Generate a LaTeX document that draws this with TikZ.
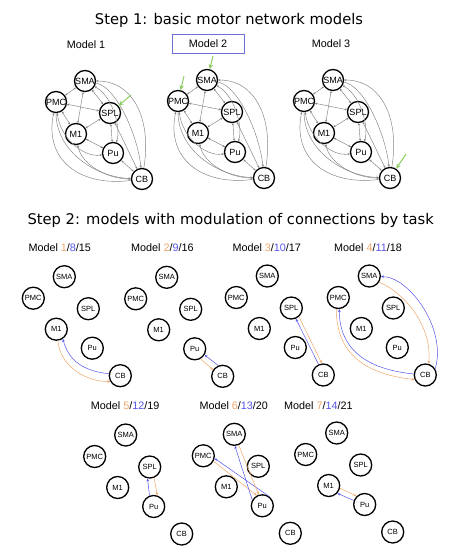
\documentclass[tikz,border=0pt]{standalone}
\usepackage{fontspec}
\setmainfont{Liberation Sans}
\newfontfamily\headfont{DejaVu Sans}
\usetikzlibrary{arrows.meta,positioning}
\definecolor{modorange}{RGB}{240,165,105}
\definecolor{modblue}{RGB}{85,85,235}
\definecolor{cuegreen}{RGB}{140,205,100}
\definecolor{boxblue}{RGB}{110,110,215}

\begin{document}
\begin{tikzpicture}[x=1pt,y=-1pt,
    region/.style={circle, draw, line width=1.3pt, minimum size=21pt, inner sep=0pt, font=\fontsize{9}{9}\selectfont},
    smallregion/.style={circle, draw, line width=1.3pt, minimum size=22pt, inner sep=0pt, font=\fontsize{7.5}{7.5}\selectfont},
    link/.style={draw=gray, line width=0.45pt, {Stealth[length=2.4pt,width=2.2pt]}-{Stealth[length=2.4pt,width=2.2pt]}},
    onelink/.style={draw=gray, line width=0.45pt, -{Stealth[length=2.4pt,width=2.2pt]}},
    cue/.style={draw=cuegreen, line width=1pt, -{Stealth[length=5pt,width=4.5pt]}},
    orangelink/.style={draw=modorange, line width=0.5pt, -{Stealth[length=3pt,width=2.6pt]}},
    bluelink/.style={draw=modblue, line width=0.5pt, -{Stealth[length=3pt,width=2.6pt]}},
    title/.style={font=\headfont\fontsize{14.7}{14.7}\selectfont},
    modelname/.style={font=\fontsize{10.8}{10.8}\selectfont}
]
\useasboundingbox (0,0) rectangle (474,557);

\node[title] (step1) at (229,20) {Step 1: basic motor network models};
\node[modelname] (name1) at (86,45) {Model 1};
\node[modelname, draw=boxblue, line width=0.8pt, minimum width=72pt, minimum height=18.6pt] (name2) at (208,44) {Model 2};
\node[modelname] (name3) at (331,44) {Model 3};

\foreach \m/\x/\y in {model1/85/81, model2/207/80, model3/333/80}{
    \node[region] (\m sma) at (\x,\y) {SMA};
    \node[region] (\m pmc) at ({\x-29},{\y+21}) {PMC};
    \node[region] (\m spl) at ({\x+25},{\y+32}) {SPL};
    \node[region] (\m m1) at ({\x-9},{\y+53}) {M1};
    \node[region] (\m pu) at ({\x+28},{\y+72}) {Pu};
    \node[region] (\m cb) at ({\x+57},{\y+98}) {CB};
}

\foreach \m in {model1,model2,model3}{
    \draw[link] (\m sma) -- (\m pmc);
    \draw[link] (\m sma) -- (\m spl);
    \draw[link] (\m sma) -- (\m m1);
    \draw[link] (\m pmc) -- (\m spl);
    \draw[link] (\m pmc) -- (\m m1);
    \draw[link] (\m spl) -- (\m m1);
    \draw[link] (\m spl) -- (\m pu);
    \draw[link] (\m m1) -- (\m pu);
    \draw[link] (\m pu) -- (\m cb);
    \draw[link] (\m spl) -- (\m cb);
    \draw[link] (\m sma) .. controls +(28,16) and +(8,-25) .. (\m pu);
    \draw[onelink] (\m sma) .. controls +(32,6) and +(-4,-42) .. (\m cb);
    \draw[onelink] (\m cb) .. controls +(10,-60) and +(48,0) .. (\m sma);
    \draw[link] (\m pmc) .. controls +(4,35) and +(-30,5) .. (\m pu);
    \draw[link] (\m m1) .. controls +(5,30) and +(-35,0) .. (\m cb);
    \draw[onelink] (\m pmc) .. controls +(0,48) and +(-48,-2) .. (\m cb);
    \draw[onelink] (\m cb) .. controls +(-62,8) and +(-12,58) .. (\m pmc);
}

\coordinate (cue1) at (131,95);
\coordinate (cue2) at (213,56);
\coordinate (cue3) at (184,76);
\coordinate (cue4) at (406,154);
\draw[cue] (cue1) -- (model1spl);
\draw[cue] (cue2) -- (model2sma);
\draw[cue] (cue3) -- (model2pmc);
\draw[cue] (cue4) -- (model3cb);

\node[title, anchor=west] (step2) at (24,220.7) {Step 2: models with modulation of connections by task};
\node[modelname, anchor=west] (task1name) at (25,247.5) {Model \textcolor{modorange}{1}/\textcolor{modblue}{8}/15};
\node[modelname, anchor=west] (task2name) at (127.7,247.5) {Model \textcolor{modorange}{2}/\textcolor{modblue}{9}/16};
\node[modelname, anchor=west] (task3name) at (229,247.5) {Model \textcolor{modorange}{3}/\textcolor{modblue}{10}/17};
\node[modelname, anchor=west] (task4name) at (330.7,247.5) {Model \textcolor{modorange}{4}/\textcolor{modblue}{11}/18};
\node[modelname, anchor=west] (task5name) at (87.3,406) {Model \textcolor{modorange}{5}/\textcolor{modblue}{12}/19};
\node[modelname, anchor=west] (task6name) at (196,406) {Model \textcolor{modorange}{6}/\textcolor{modblue}{13}/20};
\node[modelname, anchor=west] (task7name) at (280.7,406) {Model \textcolor{modorange}{7}/\textcolor{modblue}{14}/21};

\foreach \m/\x/\y in {task1/64.3/276.7, task2/166.7/277.3, task3/267.3/276, task4/369.3/276, task5/125.7/435, task6/234.3/434.3, task7/336.7/433}{
    \node[smallregion] (\m sma) at (\x,\y) {SMA};
    \node[smallregion] (\m pmc) at ({\x-31},{\y+21.5}) {PMC};
    \node[smallregion] (\m spl) at ({\x+24},{\y+32}) {SPL};
    \node[smallregion] (\m m1) at ({\x-8},{\y+52.5}) {M1};
    \node[smallregion] (\m pu) at ({\x+28},{\y+71.5}) {Pu};
    \node[smallregion] (\m cb) at ({\x+56},{\y+99}) {CB};
}

\draw[bluelink] (task1cb.170) .. controls +(-30,-3) and +(5,18) .. (task1m1.-56);
\draw[orangelink] (task1m1.-82) .. controls +(2,25) and +(-25,0) .. (task1cb.-150);

\draw[bluelink] (task2cb.112) -- (task2pu.-32);
\draw[orangelink] (task2pu.-60) -- (task2cb.146);

\draw[bluelink] (task3cb.114) -- (task3spl.-67);
\draw[orangelink] (task3spl.-49) -- (task3cb.97);

\draw[bluelink] (task4cb.175) .. controls +(-50,-5) and +(0,38) .. (task4pmc.-85);
\draw[orangelink] (task4pmc.-100) .. controls +(0,48) and +(-45,-5) .. (task4cb.-157);
\draw[bluelink] (task4cb.32) .. controls +(12,-40) and +(28,0) .. (task4sma.-3);
\draw[orangelink] (task4sma.-32) .. controls +(28,12) and +(4,-35) .. (task4cb.74);

\draw[bluelink] (task5pu.111) -- (task5spl.-101);
\draw[orangelink] (task5spl.-68) -- (task5pu.72);

\draw[bluelink] (task6pu.50) -- (task6pmc.-13);
\draw[orangelink] (task6pmc.-28) -- (task6pu.118);
\draw[bluelink] (task6pu.150) -- (task6sma.-87);
\draw[orangelink] (task6sma.-68) -- (task6pu.108);

\draw[bluelink] (task7pu.160) -- (task7m1.-42);
\draw[orangelink] (task7m1.-13) -- (task7pu.135);
\end{tikzpicture}
\end{document}
